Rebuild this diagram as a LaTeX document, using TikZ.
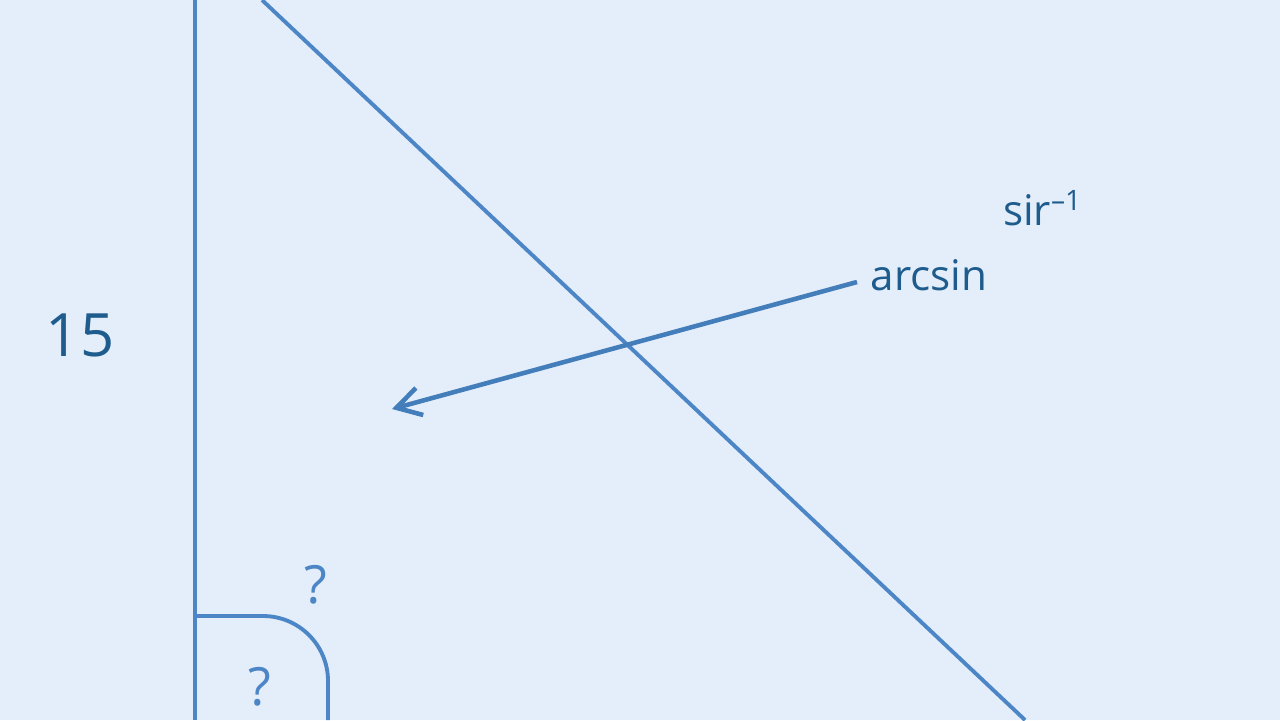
\documentclass[tikz,border=0pt]{standalone}
\usepackage{fontspec}
\setmainfont{Open Sans}
\usetikzlibrary{arrows.meta}

\definecolor{bgblue}{HTML}{E4EEFA}
\definecolor{lineblue}{HTML}{4C86C6}
\definecolor{textblue}{HTML}{1F5C8E}

\tikzset{%
        side/.style={
                draw=lineblue,
                line width=1.1pt
            },
        lbl/.style={
                text=textblue,
                inner sep=0pt
            }
    }

\begin{document}
\begin{tikzpicture}[x=0.01cm, y=0.01cm]
    \fill[bgblue] (0,0) rectangle (1280,720);
    \useasboundingbox (0,0) rectangle (1280,720);

    % triangle sides:
        \coordinate (vtop) at (195,720);
        \coordinate (vbot) at (195,0);
        \coordinate (htop) at (262,720);
        \coordinate (hbot) at (1025,0);

        \draw [side] (vtop) -- (vbot);
        \draw [side] (htop) -- (hbot);

    % angle mark:
        \coordinate (a0) at (197,104);
        \coordinate (a1) at (263,104);
        \coordinate (a2) at (328,0);
        \draw [side] (a0) -- (a1) arc (90:0:65) -- (a2);

    % labels:
        \node [lbl, font=\fontsize{17}{20}\selectfont] (len) at (80,385) {15};
        \node [lbl, font=\fontsize{12}{14}\selectfont, anchor=west] (asin) at (870,445) {arcsin};
        \node [lbl, font=\fontsize{12}{14}\selectfont] (sinv) at (1043,512) {sir\textsuperscript{–1}};
        \node [lbl, text=lineblue, font=\fontsize{15}{17}\selectfont] (q1) at (316,135) {?};
        \node [lbl, text=lineblue, font=\fontsize{15}{17}\selectfont] (q2) at (260,33) {?};

    % pointer:
        \coordinate (tip) at (392,311);
        \draw [side, line width=1.3pt, draw=lineblue!80!textblue, -{Straight Barb[length=2.4mm,width=2.8mm]}] ([xshift=-1.3mm, yshift=-0.7mm]asin.west) -- (tip);
\end{tikzpicture}
\end{document}
